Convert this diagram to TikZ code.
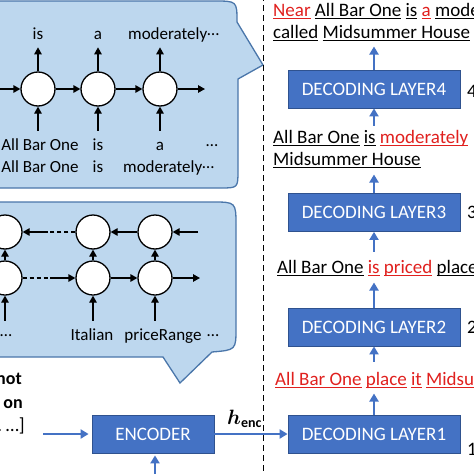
\documentclass[tikz,border=0pt]{standalone}
\usepackage{amsmath}
\usepackage{fontspec}
\setmainfont{Carlito}
\usetikzlibrary{arrows.meta}
\definecolor{bubfill}{HTML}{BDD7EE}
\definecolor{bubline}{HTML}{4A76AA}
\definecolor{boxfill}{HTML}{4472C4}
\definecolor{boxline}{HTML}{2F528F}
\definecolor{myred}{HTML}{E0201E}
\newcommand\ul[1]{\setbox0\hbox{#1}\rlap{\rule[-3.3pt]{\wd0}{1.2pt}}\box0\relax}
\newcommand\mydots{\raisebox{4pt}{…}}
\tikzset{
  x=1pt,y=-1pt,
  bubshape/.style={fill=bubfill,draw=bubline,line width=1.3pt},
  rnncell/.style={circle,draw=black,fill=white,line width=1.3pt,minimum size=34pt,inner sep=0pt},
  karrow/.style={-{Triangle[length=7pt,width=7.5pt]},line width=1.3pt,black},
  kdash/.style={line width=1.3pt,black,dash pattern=on 4pt off 3pt},
  lab/.style={inner sep=0pt,font=\fontsize{17}{20}\selectfont,anchor=base},
  declayer/.style={fill=boxfill,draw=boxline,line width=0.8pt,text=white,minimum width=172pt,minimum height=38pt,inner sep=0pt,font=\fontsize{19}{22}\selectfont},
  barrow/.style={-{Triangle[length=8pt,width=9pt]},line width=2.4pt,boxfill},
  rtext/.style={inner sep=0pt,anchor=base west,font=\fontsize{19}{22}\selectfont},
  ltext/.style={inner sep=0pt,anchor=base east,font=\fontsize{18}{22}\selectfont\bfseries},
}
\begin{document}
\begin{tikzpicture}
\useasboundingbox (0,0) rectangle (474,474);
% bubbles
\path[bubshape] (-20,1) -- (214,1) .. controls (237,1) .. (237,22) -- (263,65) -- (238,79) -- (238,170) .. controls (238,188) .. (220,188) -- (-20,188) -- cycle;
\path[bubshape] (-20,202) -- (212,202) .. controls (236,202) .. (236,226) -- (236,328) .. controls (236,350) .. (212,352) -- (180,383) -- (163,357) -- (-20,357) -- cycle;
% dashed separator
\coordinate (dtop) at (263,-5);
\coordinate (dbot) at (263,480);
\draw[black,line width=1pt,dash pattern=on 6pt off 4pt] (dtop) -- (dbot);
% top bubble: decoder RNN
\node[rnncell] (a1) at (38,89) {};
\node[rnncell] (a2) at (98,89) {};
\node[rnncell] (a3) at (160,89) {};
\coordinate (a0) at (-5,89);
\coordinate (a4) at (205,89);
\draw[karrow] (a0) -- (a1);
\draw[karrow] (a1) -- (a2);
\draw[karrow] (a2) -- (a3);
\draw[karrow] (a3) -- (a4);
\foreach \n in {a1,a2,a3}{
  \draw[karrow] (\n.north) -- ([yshift=24pt]\n.north);
  \draw[karrow] ([yshift=-24pt]\n.south) -- (\n.south);
}
\node[lab] (o1) at (38,39) {is};
\node[lab] (o2) at (98,39) {a};
\node[lab,anchor=base west] (o3) at (128,39) {moderately\mydots};
\node[lab] (i1a) at (40,150) {All Bar One};
\node[lab] (i2a) at (98,150) {is};
\node[lab] (i3a) at (160,150) {a};
\node[lab] (i4a) at (212,150) {\mydots};
\node[lab] (i1b) at (40,172) {All Bar One};
\node[lab] (i2b) at (98,172) {is};
\node[lab,anchor=base west] (i3b) at (123,172) {moderately\mydots};
% second bubble: encoder BiRNN
\node[rnncell] (b1t) at (5,232) {};
\node[rnncell] (b2t) at (93,232) {};
\node[rnncell] (b3t) at (155,232) {};
\node[rnncell] (b1b) at (5,278) {};
\node[rnncell] (b2b) at (93,278) {};
\node[rnncell] (b3b) at (155,278) {};
\coordinate (b4t) at (198,232);
\coordinate (m1) at (48,232);
\draw[karrow] (b4t) -- (b3t);
\draw[karrow] (b3t) -- (b2t);
\draw[kdash] (b2t) -- (m1);
\draw[karrow] (m1) -- (b1t);
\coordinate (m2) at (50,278);
\coordinate (b4b) at (200,278);
\draw[kdash] (b1b) -- (m2);
\draw[karrow] (m2) -- (b2b);
\draw[karrow] (b2b) -- (b3b);
\draw[karrow] (b3b) -- (b4b);
\foreach \c in {1,2,3}{
  \draw[karrow] (b\c b) -- (b\c t);
  \draw[karrow] ([yshift=-25pt]b\c b.south) -- (b\c b.south);
}
\node[lab] (l1) at (6,340) {\mydots};
\node[lab] (l2) at (92,340) {Italian};
\node[lab] (l3) at (163,340) {priceRange};
\node[lab] (l4) at (213,340) {\mydots};
% left input text
\node[ltext] (k1) at (22,384) {not};
\node[ltext] (k2) at (23,408) {on};
\node[ltext,font=\fontsize{19}{22}\selectfont] (k3) at (25,431) {… …]};
% encoder
\node[declayer,minimum width=122pt] (enc) at (153,434) {ENCODER};
\coordinate (inL) at (43,434);
\coordinate (inB) at (155,480);
\draw[barrow] (inL) -- ([xshift=-3pt]inL -| enc.west);
\draw[barrow] (inB) -- ([yshift=-2pt]inB |- enc.south);
% decoding layers
\node[declayer] (dl4) at (374,89) {DECODING LAYER4};
\node[declayer] (dl3) at (374,212.5) {DECODING LAYER3};
\node[declayer] (dl2) at (374,327) {DECODING LAYER2};
\node[declayer] (dl1) at (374,434.5) {DECODING LAYER1};
\draw[barrow] (enc.east) -- (enc.east -| dl1.west);
\node[anchor=base west,inner sep=0pt,font=\fontsize{20}{24}\selectfont] (henc) at (227,424) {$\boldsymbol{h}_{\mathbf{enc}}$};
% texts
\node[rtext] (t4a) at (273,16) {\textcolor{myred}{\ul{Near}} \ul{All Bar One} \ul{is} \textcolor{myred}{\ul{a}} \ul{moderately}};
\node[rtext] (t4b) at (273,38) {\ul{called} \ul{Midsummer House}};
\node[rtext] (t3a) at (273,143) {\ul{All Bar One} \ul{is} \textcolor{myred}{\ul{moderately}}};
\node[rtext] (t3b) at (273,165) {\ul{Midsummer House}};
\node[rtext] (t2) at (277,273) {\ul{All Bar One} \textcolor{myred}{\ul{is} \ul{priced}} \ul{place}};
\node[rtext] (t1) at (275,385) {\color{myred}\ul{All Bar One} \ul{place} \ul{it} \ul{Midsummer}};
% numbers
\node[rtext] (n4) at (467,97) {4};
\node[rtext] (n3) at (467,218) {3};
\node[rtext] (n2) at (467,333) {2};
\node[rtext] (n1) at (467,455) {1};
% vertical arrows
\draw[barrow] (dl4.north) -- ([yshift=-5pt]dl4.north |- t4b.south);
\draw[barrow] ([yshift=4pt]dl4.south |- t3a.north) -- (dl4.south);
\draw[barrow] (dl3.north) -- ([yshift=-6pt]dl3.north |- t3b.south);
\draw[barrow] ([yshift=8pt]dl3.south |- t2.north) -- (dl3.south);
\draw[barrow] (dl2.north) -- ([yshift=-6pt]dl2.north |- t2.south);
\draw[barrow] ([yshift=10pt]dl2.south |- t1.north) -- (dl2.south);
\draw[barrow] (dl1.north) -- ([yshift=-5pt]dl1.north |- t1.south);
\end{tikzpicture}
\end{document}
